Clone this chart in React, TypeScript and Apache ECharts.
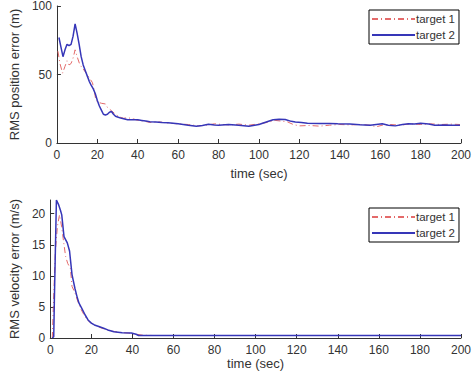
import React, { useEffect, useRef } from "react";
import * as echarts from "echarts";

// Top: RMS position error (m) vs time (sec)
const posTarget1: [number, number][] = [
  [0.5, 67], [1.5, 58], [2.8, 51], [4, 56], [5, 60], [6, 57], [7, 58], [8, 62], [9, 68], [10, 63],
  [11.4, 57], [13, 54], [15, 50], [17.6, 44], [18.5, 38], [19.2, 32], [20, 30], [22, 29], [24, 28.5],
  [25, 26], [27, 23.5], [29, 21], [31, 19], [33, 18], [35, 18.5], [38, 17.5], [40, 16.5], [43, 16],
  [46, 15], [50, 15.5], [55, 14.5], [60, 14], [65, 13.5], [70, 12.5], [74, 13], [78, 14], [82, 13.5],
  [86, 13.2], [90, 13.8], [95, 13], [100, 14], [104, 15], [108, 16.5], [111, 16], [114, 15.5],
  [117, 13.5], [120, 12.5], [125, 12.8], [130, 12.3], [135, 13], [140, 13.5], [145, 13.2], [150, 13.5],
  [155, 13], [158, 11.8], [161, 13], [165, 13.5], [170, 13], [175, 14], [180, 13.5], [185, 14],
  [190, 13.5], [195, 13.8], [199.5, 13.5],
];
const posTarget2: [number, number][] = [
  [1, 77], [2, 70], [3, 63], [4, 68], [5, 72], [6, 71], [7, 72], [8, 78], [9, 87], [10, 80], [11, 72],
  [12, 63], [13, 57], [14, 53], [15, 49], [16, 45], [17, 42], [18, 39.5], [19, 36], [20, 31], [21, 27],
  [22, 24], [23, 21], [24, 20.5], [25, 21], [26, 22.5], [27, 23], [28, 21], [29, 19.5], [30, 19],
  [32, 18], [35, 17], [38, 17], [40, 17], [42, 16.5], [44, 16], [46, 15.5], [49, 15.3], [52, 15],
  [55, 14.8], [60, 14], [65, 13], [69, 12.3], [72, 12.8], [75, 13.7], [78, 13.2], [80, 13], [85, 13.5],
  [90, 13], [95, 12.3], [100, 13.5], [104, 15.5], [107, 17], [110, 17.3], [113, 17.2], [116, 15.8],
  [118, 15.3], [121, 15], [124, 14.5], [130, 14.3], [135, 14.2], [139, 14], [145, 13.8], [150, 13.3],
  [155, 13], [158, 13.5], [161, 14], [164, 13], [167.5, 12.5], [171, 13.5], [174, 14], [177, 13.8],
  [180, 14.5], [184, 13.8], [187, 13], [192, 13.2], [196, 13], [199.5, 13],
];

// Bottom: RMS velocity error (m/s) vs time (sec)
const velTarget1: [number, number][] = [
  [1, 0], [1.5, 5], [2.5, 14], [3.5, 18], [4.5, 19.8], [5.5, 18], [6.5, 15.5], [7.5, 13.1], [8.5, 12],
  [9.8, 11.2], [10.6, 8.3], [12, 7.3], [13.5, 5.8], [15, 4.6], [17, 3.4], [19, 2.6], [21, 2.2],
  [24, 1.7], [27, 1.4], [30, 1.1], [34, 0.9], [38, 0.8], [42, 0.6], [45, 0.45], [50, 0.4], [100, 0.4],
  [150, 0.4], [200, 0.4],
];
const velTarget2: [number, number][] = [
  [1, 0], [1.7, 0.2], [2, 6], [3, 22.2], [4, 21.5], [5, 20.5], [5.6, 19.8], [6.7, 16.3], [8.3, 15.3],
  [9.4, 14], [10.6, 10.2], [12, 8], [13, 6.7], [14, 5.6], [15.3, 4.8], [17, 3.7], [18.4, 2.9], [20, 2.4],
  [21.5, 2.1], [24, 1.8], [26, 1.56], [28, 1.3], [31, 1.0], [35, 0.86], [39.5, 0.8], [41.8, 0.6],
  [43, 0.4], [50, 0.4], [100, 0.4], [150, 0.4], [200, 0.4],
];

const seriesNames = ["target 1", "target 2"];
const xTitle = "time (sec)";
const yTitles = ["RMS position error (m)", "RMS velocity error (m/s)"];
const velYTicks = [0, 5, 10, 15, 20];

const FONT = "'Liberation Sans', Arial, sans-serif";
const AXIS = "#333";
const RED = "#e46a6a";
const BLUE = "#3636b8";

export default function App() {
  const ref = useRef<HTMLDivElement>(null);
  useEffect(() => {
    if (!ref.current) return;
    const chart = echarts.init(ref.current, undefined, { renderer: "svg" });
    const xAxisBase = (gridIndex: number, nameGap: number) => ({
      type: "value",
      gridIndex,
      min: 0,
      max: 200,
      interval: 20,
      name: xTitle,
      nameLocation: "middle",
      nameGap,
      nameTextStyle: { color: AXIS, fontSize: 13, fontFamily: FONT },
      axisLine: { show: true, lineStyle: { color: AXIS, width: 1 } },
      axisTick: { show: true, inside: true, length: 4, lineStyle: { color: AXIS } },
      axisLabel: { color: AXIS, fontSize: 12, fontFamily: FONT, margin: 6 },
      splitLine: { show: false },
    });
    const legendBase = (top: number) => ({
      show: true,
      data: seriesNames,
      orient: "vertical",
      left: 369,
      top,
      itemWidth: 43,
      itemHeight: 11,
      itemGap: 4,
      padding: [3, 4, 3, 2],
      borderColor: "#000",
      borderWidth: 1,
      backgroundColor: "#fff",
      selectedMode: false,
      itemStyle: { opacity: 0 },
      textStyle: { color: AXIS, fontSize: 11.5, fontFamily: FONT, padding: [0, 0, 0, -4] },
    });
    const yAxisBase = (gridIndex: number, name: string) => ({
      type: "value",
      gridIndex,
      min: 0,
      name,
      nameLocation: "middle",
      nameGap: 27,
      nameTextStyle: { color: AXIS, fontSize: 13, fontFamily: FONT },
      axisLine: { show: true, lineStyle: { color: AXIS, width: 1 } },
      axisTick: { show: true, inside: true, length: 4, lineStyle: { color: AXIS } },
      axisLabel: { color: AXIS, fontSize: 12, fontFamily: FONT, margin: 5 },
      splitLine: { show: false },
    });
    const y0: any = yAxisBase(0, yTitles[0]);
    y0.max = 100;
    y0.interval = 50;
    const y1: any = yAxisBase(1, yTitles[1]);
    y1.max = 22.2;
    y1.axisTick = { ...y1.axisTick, customValues: velYTicks };
    y1.axisLabel = { ...y1.axisLabel, customValues: velYTicks };
    const option: any = {
      animation: false,
      backgroundColor: "#fff",
      grid: [
        { left: 39, right: 8, top: 4, height: 139 },
        { left: 39, right: 8, top: 200, height: 138 },
      ],
      legend: [legendBase(10), legendBase(208)],
      xAxis: [xAxisBase(0, 24), xAxisBase(1, 19)],
      yAxis: [y0, y1],
      series: [
        {
          name: seriesNames[0], type: "line", xAxisIndex: 0, yAxisIndex: 0, data: posTarget1,
          symbol: "none", color: RED, lineStyle: { color: RED, width: 1, type: [6, 3, 1, 3] }, z: 2,
        },
        {
          name: seriesNames[1], type: "line", xAxisIndex: 0, yAxisIndex: 0, data: posTarget2,
          symbol: "none", color: BLUE, lineStyle: { color: BLUE, width: 1.5 }, z: 3,
        },
        {
          name: seriesNames[0], type: "line", xAxisIndex: 1, yAxisIndex: 1, data: velTarget1,
          symbol: "none", color: RED, lineStyle: { color: RED, width: 1, type: [6, 3, 1, 3] }, z: 2,
        },
        {
          name: seriesNames[1], type: "line", xAxisIndex: 1, yAxisIndex: 1, data: velTarget2,
          symbol: "none", color: BLUE, lineStyle: { color: BLUE, width: 1.5 }, z: 3,
        },
      ],
    };
    chart.setOption(option);
    return () => chart.dispose();
  }, []);
  return (
    <div
      ref={ref}
      style={{ width: 474, height: 375, position: "absolute", left: 0, top: 0 }}
    />
  );
}
